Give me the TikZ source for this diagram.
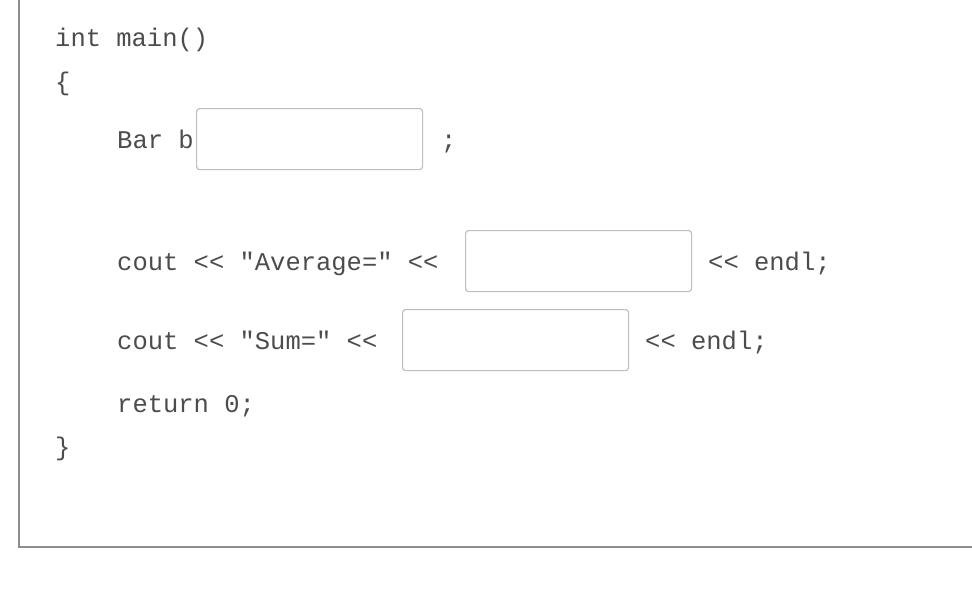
\documentclass[tikz,border=0pt]{standalone}
\usepackage{fontspec}
\setmonofont{Liberation Mono}
\begin{document}
\begin{tikzpicture}[x=1pt,y=-1pt,
  code/.style={anchor=mid west,inner sep=0pt,font=\ttfamily\fontsize{25.5}{30}\selectfont,text=black!70},
  blank/.style={draw=black!25,line width=1.2pt,rounded corners=3pt,minimum width=226pt,minimum height=61pt,anchor=north west,inner sep=0pt}]
\useasboundingbox (0,0) rectangle (972,589);
\draw[black!45,line width=1.2pt] (19,0) -- (19,547) -- (972,547);
\node[code] (l1) at (55,44) {int main()};
\node[code] (l2) at (55,88) {\{};
\node[code] (l3) at (117,146) {Bar b};
\node[blank] (b1) at (196,108) {};
\node[code] (l3b) at (441,146) {;};
\node[code] (l4) at (117,268) {cout << "Average=" <<};
\node[blank] (b2) at (465,230) {};
\node[code] (l4b) at (708,268) {<< endl;};
\node[code] (l5) at (117,347) {cout << "Sum=" <<};
\node[blank] (b3) at (402,309) {};
\node[code] (l5b) at (645,347) {<< endl;};
\node[code] (l6) at (117,410) {return 0;};
\node[code] (l7) at (55,453) {\}};
\end{tikzpicture}
\end{document}
